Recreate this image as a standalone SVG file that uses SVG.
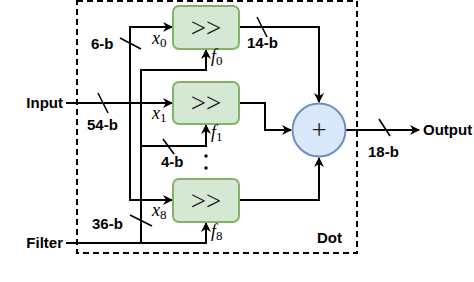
<svg xmlns="http://www.w3.org/2000/svg" width="474" height="282" viewBox="0 0 474 282">
<defs>
<marker id="ah" viewBox="0 0 10 10" refX="9" refY="5" markerWidth="10" markerHeight="10" markerUnits="userSpaceOnUse" orient="auto">
<path d="M0,0 L10,5 L0,10 L3,5 Z" fill="#000"/>
</marker>
<style>
.w{fill:none;stroke:#000;stroke-width:2}
.s{stroke:#000;stroke-width:1.6}
.box{fill:#d5e8d4;stroke:#82b366;stroke-width:2}
.lbl{font-family:"Liberation Sans",Arial,sans-serif;font-weight:bold;font-size:15px;fill:#000}
.m{font-family:"Liberation Serif","Times New Roman",serif;font-size:18px;fill:#000}
.mi{font-style:italic}
.op{font-family:"Liberation Serif","Times New Roman",serif;font-size:27px;fill:#222;text-anchor:middle}
</style>
</defs>
<rect x="77" y="1" width="280" height="252" fill="none" stroke="#000" stroke-width="2" stroke-dasharray="6,4"/>
<g id="connectors">
<path class="w" d="M66,103 H172" marker-end="url(#ah)"/>
<path class="w" d="M130,103 V27 H172" marker-end="url(#ah)"/>
<path class="w" d="M130,103 V200 H172" marker-end="url(#ah)"/>
<path class="w" d="M141,243 V70 H206 V50" marker-end="url(#ah)"/>
<path class="w" d="M141,146 H206 V125" marker-end="url(#ah)"/>
<path class="w" d="M66,243 H206 V223" marker-end="url(#ah)"/>
<path class="w" d="M239,27 H319 V102" marker-end="url(#ah)"/>
<path class="w" d="M239,103 H265 V130 H291" marker-end="url(#ah)"/>
<path class="w" d="M239,200 H319 V158" marker-end="url(#ah)"/>
<path class="w" d="M346,130 H419" marker-end="url(#ah)"/>
<line class="s" x1="98" y1="93" x2="108" y2="113"/>
<line class="s" x1="120" y1="38" x2="141" y2="49"/>
<line class="s" x1="163" y1="139" x2="174" y2="154"/>
<line class="s" x1="130" y1="215" x2="152" y2="226"/>
<line class="s" x1="257" y1="17" x2="267" y2="37"/>
<line class="s" x1="379" y1="119" x2="390" y2="136"/>
<circle cx="206" cy="156" r="1.7" fill="#000"/>
<circle cx="206" cy="168" r="1.7" fill="#000"/>
</g>
<g id="shift0">
<rect class="box" x="173" y="6" width="66" height="43" rx="6"/>
<text class="op" x="206" y="37">&gt;&gt;</text>
</g>
<g id="shift1">
<rect class="box" x="173" y="82" width="66" height="42" rx="6"/>
<text class="op" x="206" y="112">&gt;&gt;</text>
</g>
<g id="shift8">
<rect class="box" x="173" y="179" width="66" height="43" rx="6"/>
<text class="op" x="206" y="210">&gt;&gt;</text>
</g>
<g id="adder">
<circle cx="319" cy="130" r="26.5" fill="#dae8fc" stroke="#6c8ebf" stroke-width="2"/>
<text class="op" x="319" y="139">+</text>
</g>
<g id="labels">
<text class="lbl" x="63" y="108" text-anchor="end">Input</text>
<text class="lbl" x="63" y="248" text-anchor="end">Filter</text>
<text class="lbl" x="423" y="135">Output</text>
<text class="lbl" x="87" y="130">54-b</text>
<text class="lbl" x="91" y="49">6-b</text>
<text class="lbl" x="161" y="167">4-b</text>
<text class="lbl" x="92" y="229">36-b</text>
<text class="lbl" x="247" y="48">14-b</text>
<text class="lbl" x="368" y="157">18-b</text>
<text class="lbl" x="317" y="243">Dot</text>
<text class="m" x="152" y="44"><tspan class="mi">x</tspan><tspan font-size="13" dy="3">0</tspan></text>
<text class="m" x="152" y="119"><tspan class="mi">x</tspan><tspan font-size="13" dy="3">1</tspan></text>
<text class="m" x="152" y="216"><tspan class="mi">x</tspan><tspan font-size="13" dy="3">8</tspan></text>
<text class="m" x="211" y="62"><tspan class="mi">f</tspan><tspan font-size="13" dy="3">0</tspan></text>
<text class="m" x="211" y="138"><tspan class="mi">f</tspan><tspan font-size="13" dy="3">1</tspan></text>
<text class="m" x="211" y="237"><tspan class="mi">f</tspan><tspan font-size="13" dy="3">8</tspan></text>
</g>
</svg>
